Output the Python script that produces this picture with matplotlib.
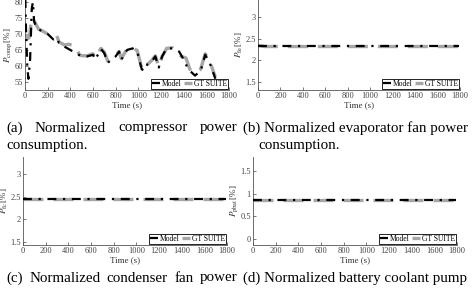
import matplotlib.pyplot as plt

plt.rcParams['font.family'] = ['Liberation Serif', 'DejaVu Serif']
plt.rcParams['mathtext.fontset'] = 'stix'

# (a) compressor power
t_model = [0, 10, 20, 30, 45, 60, 70, 80, 100, 150, 200, 250, 280, 300, 350, 400, 450, 500,
           550, 600, 620, 670, 700, 730, 780, 800, 830, 850, 900, 950, 990, 1030, 1050, 1080,
           1120, 1150, 1180, 1210, 1250, 1300, 1360, 1400, 1440, 1500, 1550, 1590, 1630, 1680]
p_model = [85, 70, 60, 56, 62, 78, 80, 74, 72, 70.8, 70, 68.3, 68.8, 67.2, 66, 65, 64, 63,
           63, 63.5, 62, 65.3, 64, 61, 62.5, 63, 64.5, 62, 65, 65.5, 64.5, 59, 58.5, 60.5,
           61.5, 63, 59.5, 63, 65.5, 65.5, 64.5, 62, 59, 57, 58.5, 63.5, 61, 56]
t_gt = [10, 25, 40, 55, 70, 90, 120, 150, 200, 250, 280, 300, 350, 380, 420, 450, 480, 500,
        550, 600, 620, 670, 700, 730, 780, 800, 830, 850, 900, 950, 990, 1030, 1050, 1080,
        1120, 1150, 1180, 1210, 1250, 1300, 1350, 1380, 1420, 1460, 1500, 1550, 1590, 1630, 1680]
p_gt = [70, 68.5, 69, 74, 75, 73.5, 71.5, 71, 70, 69.3, 69.5, 67.5, 66.5, 66.8, 66.5, 66, 63.5, 63.2,
        63.2, 63.8, 62.5, 65.5, 64.3, 61.5, 62.8, 63.2, 64.5, 62.3, 65.3, 65.7, 64.8, 59.3, 58.8, 60.5,
        61.8, 63.2, 59.8, 63, 65.5, 65.7, 64, 63, 62.5, 58.5, 58, 59, 63.8, 61.5, 56.5]

# (b)-(d) flat signals
t_flat = [0, 60, 1790]
fe_model = [2.33, 2.33, 2.33]
fe_gt = [2.35, 2.32, 2.32]
fc_model = [2.44, 2.44, 2.44]
fc_gt = [2.44, 2.44, 2.44]
pump_model = [0.86, 0.86, 0.86]
pump_gt = [0.86, 0.86, 0.86]

xticks = [0, 200, 400, 600, 800, 1000, 1200, 1400, 1600, 1800]

fig = plt.figure(figsize=(4.74, 2.89), dpi=100)

W, H = 474, 289
def box(l, r, top, bot):
    return [l / W, 1 - bot / H, (r - l) / W, (bot - top) / H]

panels = [
    (box(25, 229, 0, 90), t_model, p_model, t_gt, p_gt, (52.5, 80.6), [55, 60, 65, 70, 75, 80],
     ['55', '60', '65', '70', '75', '80'], r'$P_{\rm comp}\,$[%]'),
    (box(258, 460, 0, 90), t_flat, fe_model, t_flat, fe_gt, (1.32, 3.39), [1.5, 2, 2.5, 3],
     ['1.5', '2', '2.5', '3'], r'$P_{\rm fe}\,$[%]'),
    (box(23, 227, 157, 245), t_flat, fc_model, t_flat, fc_gt, (1.43, 3.38), [1.5, 2, 2.5, 3],
     ['1.5', '2', '2.5', '3'], r'$P_{\rm fc}\,$[%]'),
    (box(253, 457, 157, 245), t_flat, pump_model, t_flat, pump_gt, (-0.13, 1.81), [0, 0.5, 1, 1.5],
     ['0', '0.5', '1', '1.5'], r'$P_{\rm pbat}\,$[%]'),
]

for pos, tm, pm, tg, pg, ylim, yt, ytl, ylab in panels:
    ax = fig.add_axes(pos)
    ax.plot(tm, pm, color='black', lw=1.6, linestyle=(0, (4, 3, 1, 3)), label='Model', zorder=3)
    ax.plot(tg, pg, color='#a6a6a6', lw=2.4, linestyle=(0, (6, 3)), label='GT SUITE', zorder=2)
    ax.set_xlim(0, 1800)
    ax.set_ylim(*ylim)
    ax.set_xticks(xticks)
    ax.set_xticklabels([str(x) for x in xticks])
    ax.set_yticks(yt)
    ax.set_yticklabels(ytl)
    ax.tick_params(direction='in', length=2, width=0.5, labelsize=6, pad=1.5, colors='#444444')
    ax.spines['top'].set_visible(False)
    ax.spines['right'].set_visible(False)
    for s in ('left', 'bottom'):
        ax.spines[s].set_linewidth(0.6)
        ax.spines[s].set_color('#555555')
    ax.set_xlabel('Time (s)', fontsize=6.5, labelpad=1, color='#333333')
    ax.set_ylabel(ylab, fontsize=6.5, labelpad=0, color='#333333')
    leg = ax.legend(loc='lower right', ncol=2, fontsize=5.5, handlelength=1.1, handletextpad=0.2,
                    columnspacing=0.3, borderpad=0.15, borderaxespad=0.1, fancybox=False,
                    framealpha=1)
    leg.set_zorder(5)
    leg.get_frame().set_edgecolor('black')
    leg.get_frame().set_linewidth(0.6)

fs = 10.8
renderer = fig.canvas.get_renderer()

def justified(words, x0, x1, y):
    # spread words over x0..x1 like a justified caption line
    texts = [fig.text(0, 1 - y / H, w, fontsize=fs, ha='left', va='center') for w in words]
    widths = [t.get_window_extent(renderer).width for t in texts]
    gap = (x1 - x0 - sum(widths)) / (len(words) - 1)
    x = x0
    for t, w in zip(texts, widths):
        t.set_x(x / W)
        x += w + gap

def plain(text, x, y):
    fig.text(x / W, 1 - y / H, text, fontsize=fs, ha='left', va='center')

justified(['(a)', 'Normalized', 'compressor', 'power'], 6, 238, 128)
plain('consumption.', 6, 146)
plain('(b) Normalized evaporator fan power', 243, 128)
plain('consumption.', 258, 146)
justified(['(c)', 'Normalized', 'condenser', 'fan', 'power'], 6, 238, 278)
plain('(d) Normalized battery coolant pump', 243, 278)

fig.savefig('out.png', dpi=100)
